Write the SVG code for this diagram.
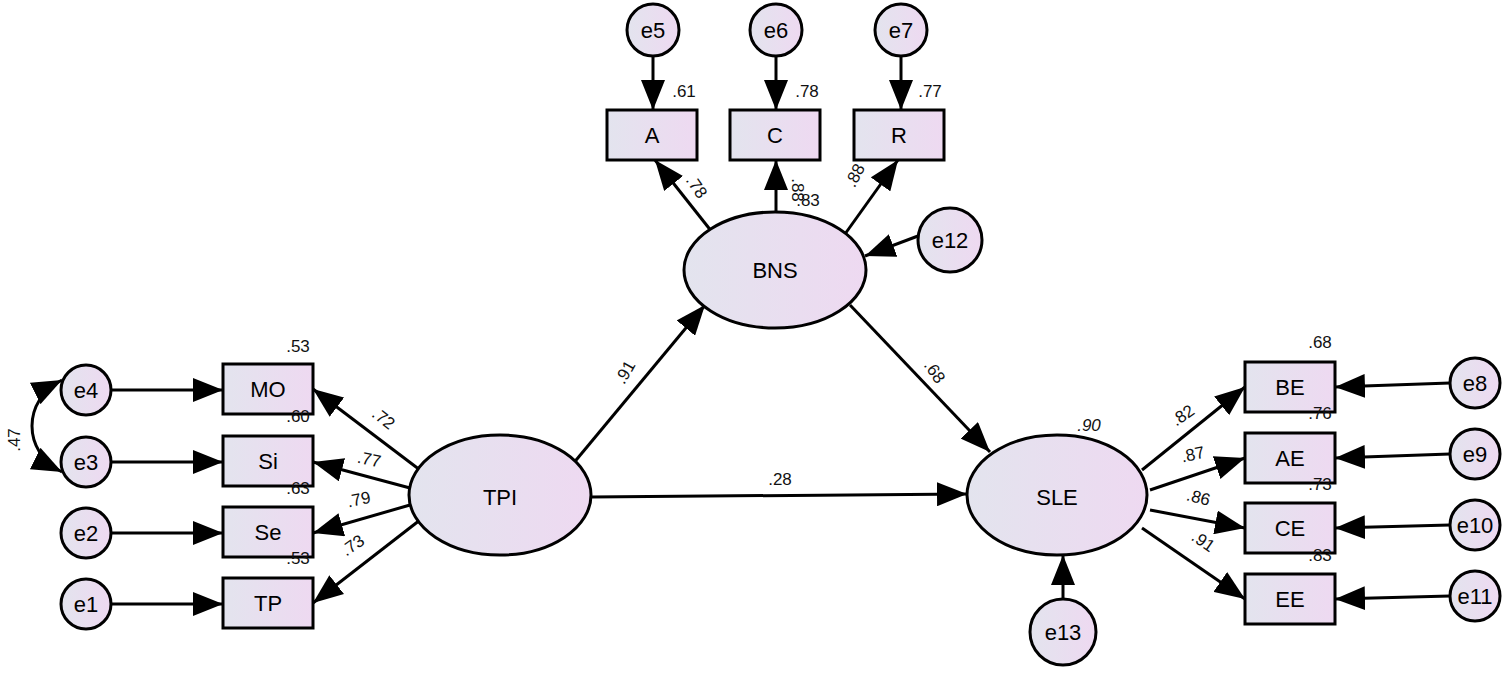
<svg xmlns="http://www.w3.org/2000/svg" width="1506" height="675" viewBox="0 0 1506 675">
<defs>
<linearGradient id="g" x1="0" y1="0" x2="1" y2="0"><stop offset="0" stop-color="#e3e4ee"/><stop offset="1" stop-color="#eed9f1"/></linearGradient>
<marker id="a" markerUnits="userSpaceOnUse" markerWidth="32" markerHeight="24" refX="30" refY="12" orient="auto-start-reverse"><path d="M0,0 L30,12 L0,24 Z" fill="#000"/></marker>
</defs>
<style>
.n{fill:url(#g);stroke:#000;stroke-width:3}
.t{font-family:"Liberation Sans",Arial,sans-serif;font-size:22px;text-anchor:middle;dominant-baseline:central}
.v{font-family:"Liberation Sans",Arial,sans-serif;font-size:17px;text-anchor:middle;fill:#111}
.c line,.c path{stroke:#000;stroke-width:3;fill:none;marker-end:url(#a)}
</style>
<g class="c">
<line x1="653" y1="56" x2="653" y2="110"/>
<line x1="776" y1="56" x2="776" y2="110"/>
<line x1="901" y1="56" x2="901" y2="110"/>
<line x1="712" y1="232" x2="655" y2="160"/>
<line x1="776" y1="212" x2="776" y2="160"/>
<line x1="845" y1="234" x2="898" y2="160"/>
<line x1="918" y1="236" x2="865" y2="256"/>
<line x1="572" y1="465" x2="705" y2="305"/>
<line x1="850" y1="305" x2="990" y2="452"/>
<line x1="591" y1="497" x2="967" y2="494"/>
<line x1="1063" y1="599" x2="1063" y2="555"/>
<line x1="420" y1="470" x2="313" y2="389"/>
<line x1="410" y1="488" x2="313" y2="462"/>
<line x1="410" y1="505" x2="313" y2="533"/>
<line x1="420" y1="520" x2="313" y2="603"/>
<line x1="111" y1="390" x2="223" y2="390"/>
<line x1="111" y1="462" x2="223" y2="462"/>
<line x1="111" y1="533" x2="223" y2="533"/>
<line x1="111" y1="604" x2="223" y2="604"/>
<line x1="1142" y1="470" x2="1245" y2="387"/>
<line x1="1150" y1="490" x2="1245" y2="458"/>
<line x1="1150" y1="510" x2="1245" y2="528"/>
<line x1="1142" y1="528" x2="1245" y2="599"/>
<line x1="1450" y1="383" x2="1335" y2="387"/>
<line x1="1450" y1="454" x2="1335" y2="458"/>
<line x1="1450" y1="525" x2="1335" y2="528"/>
<line x1="1450" y1="596" x2="1335" y2="599"/>
<path d="M62,380 C22,400 22,452 62,472" style="marker-start:url(#a)"/>
</g>
<g id="e1"><circle class="n" cx="86" cy="604" r="25"/><text class="t" x="86" y="604">e1</text></g>
<g id="e2"><circle class="n" cx="86" cy="533" r="25"/><text class="t" x="86" y="533">e2</text></g>
<g id="e3"><circle class="n" cx="86" cy="462" r="25"/><text class="t" x="86" y="462">e3</text></g>
<g id="e4"><circle class="n" cx="86" cy="390" r="25"/><text class="t" x="86" y="390">e4</text></g>
<g id="MO"><rect class="n" x="223" y="364" width="90" height="50"/><text class="t" x="268" y="389">MO</text></g>
<g id="Si"><rect class="n" x="223" y="436" width="90" height="50"/><text class="t" x="268" y="461">Si</text></g>
<g id="Se"><rect class="n" x="223" y="507" width="90" height="50"/><text class="t" x="268" y="532">Se</text></g>
<g id="TP"><rect class="n" x="223" y="578" width="90" height="50"/><text class="t" x="268" y="603">TP</text></g>
<g id="TPI"><ellipse class="n" cx="500" cy="495" rx="91" ry="60"/><text class="t" x="500" y="497">TPI</text></g>
<g id="BNS"><ellipse class="n" cx="775" cy="270" rx="91" ry="58"/><text class="t" x="775" y="270">BNS</text></g>
<g id="SLE"><ellipse class="n" cx="1057" cy="495" rx="90" ry="60"/><text class="t" x="1057" y="497">SLE</text></g>
<g id="e12"><circle class="n" cx="950" cy="240" r="32"/><text class="t" x="950" y="240">e12</text></g>
<g id="e13"><circle class="n" cx="1063" cy="632" r="33"/><text class="t" x="1063" y="632">e13</text></g>
<g id="e5"><circle class="n" cx="653" cy="30" r="26"/><text class="t" x="653" y="30">e5</text></g>
<g id="e6"><circle class="n" cx="776" cy="30" r="26"/><text class="t" x="776" y="30">e6</text></g>
<g id="e7"><circle class="n" cx="901" cy="30" r="26"/><text class="t" x="901" y="30">e7</text></g>
<g id="A"><rect class="n" x="607" y="110" width="90" height="50"/><text class="t" x="652" y="135">A</text></g>
<g id="C"><rect class="n" x="730" y="110" width="90" height="50"/><text class="t" x="775" y="135">C</text></g>
<g id="R"><rect class="n" x="854" y="110" width="90" height="50"/><text class="t" x="899" y="135">R</text></g>
<g id="BE"><rect class="n" x="1245" y="362" width="90" height="50"/><text class="t" x="1290" y="387">BE</text></g>
<g id="AE"><rect class="n" x="1245" y="433" width="90" height="50"/><text class="t" x="1290" y="458">AE</text></g>
<g id="CE"><rect class="n" x="1245" y="503" width="90" height="50"/><text class="t" x="1290" y="528">CE</text></g>
<g id="EE"><rect class="n" x="1245" y="574" width="90" height="50"/><text class="t" x="1290" y="599">EE</text></g>
<g id="e8"><circle class="n" cx="1475" cy="383" r="25"/><text class="t" x="1475" y="383">e8</text></g>
<g id="e9"><circle class="n" cx="1475" cy="454" r="25"/><text class="t" x="1475" y="454">e9</text></g>
<g id="e10"><circle class="n" cx="1475" cy="525" r="25"/><text class="t" x="1475" y="525">e10</text></g>
<g id="e11"><circle class="n" cx="1475" cy="596" r="25"/><text class="t" x="1475" y="596">e11</text></g>
<g id="labels">
<text class="v" x="684" y="97">.61</text>
<text class="v" x="807" y="97">.78</text>
<text class="v" x="930" y="97">.77</text>
<text class="v" transform="translate(692,190) rotate(55)">.78</text>
<text class="v" transform="translate(792,190) rotate(90)">.88</text>
<text class="v" x="808" y="206">.83</text>
<text class="v" transform="translate(860,178) rotate(-62)">.88</text>
<text class="v" transform="translate(630,375) rotate(-60)">.91</text>
<text class="v" transform="translate(930,375) rotate(55)">.68</text>
<text class="v" x="780" y="485">.28</text>
<text class="v" x="1089" y="431" font-style="italic">.90</text>
<text class="v" x="298" y="352">.53</text>
<text class="v" x="298" y="422">.60</text>
<text class="v" x="298" y="494">.63</text>
<text class="v" x="298" y="564">.53</text>
<text class="v" transform="translate(380,423) rotate(38)">.72</text>
<text class="v" transform="translate(368,465) rotate(12)">.77</text>
<text class="v" transform="translate(360,505) rotate(-12)">.79</text>
<text class="v" transform="translate(356,550) rotate(-35)">.73</text>
<text class="v" transform="translate(20,440) rotate(-90)">.47</text>
<text class="v" x="1320" y="348">.68</text>
<text class="v" x="1320" y="419">.76</text>
<text class="v" x="1320" y="490">.73</text>
<text class="v" x="1320" y="561">.83</text>
<text class="v" transform="translate(1186,420) rotate(-35)">.82</text>
<text class="v" transform="translate(1194,460) rotate(-12)">.87</text>
<text class="v" transform="translate(1197,503) rotate(15)">.86</text>
<text class="v" transform="translate(1200,546) rotate(35)">.91</text>
</g>
</svg>
